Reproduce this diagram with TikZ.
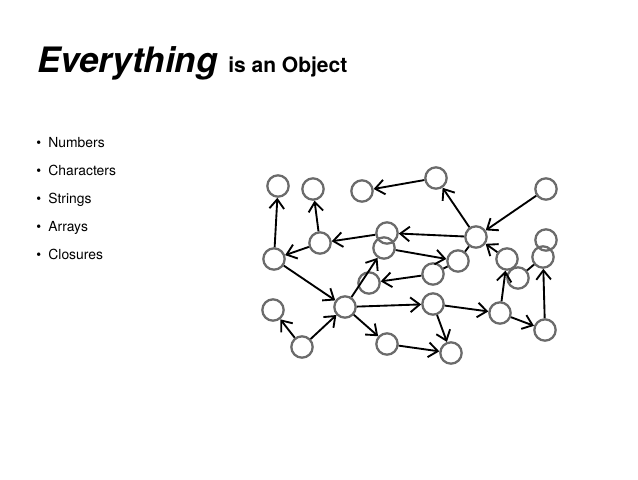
\documentclass[tikz,border=0pt]{standalone}
\usepackage{fontspec}
\setmainfont{TeX Gyre Heros}
\usetikzlibrary{arrows.meta, positioning}

\tikzset{
  obj/.style={circle, draw=black!58, line width=1.7pt, minimum size=16pt, inner sep=0pt},
  ref/.style={-{Straight Barb[length=7pt, width=11pt, line width=1.4pt]}, line width=1.4pt},
  link/.style={line width=1.4pt}
}

\begin{document}
\begin{tikzpicture}[x=0.75pt, y=-0.75pt]
  \useasboundingbox (0,0) rectangle (638,479);

  % Draw the title
  \node (title) [anchor=base west, inner sep=0pt] at (37,72) {\fontsize{26.25}{30}\selectfont\bfseries\itshape Everything};
  \node (subtitle) [anchor=base west, inner sep=0pt] at (228,72) {\fontsize{15.75}{18}\selectfont\bfseries is an Object};

  % Draw the bullet list
  \foreach \item [count=\i] in {Numbers, Characters, Strings, Arrays, Closures}
    \node (item\i) [anchor=base west, inner sep=0pt] at (36,147+28*\i-28) {\fontsize{10.4}{12}\selectfont\textbullet\hspace{5.5pt}\item};

  % Create the objects
  \node (topa) [obj] at (278,186) {};
  \node (topb) [obj] at (313,189) {};
  \node (topc) [obj] at (362,191) {};
  \node (topd) [obj] at (436,178) {};
  \node (tope) [obj] at (546,189) {};

  \node (mida) [obj] at (274,259) {};
  \node (midb) [obj] at (320,243) {};
  \node (midc) [obj] at (387,233) {};
  \node (midd) [obj] at (384,248) {};
  \node (hub) [obj] at (476,237) {};
  \node (mide) [obj] at (458,261) {};
  \node (midf) [obj] at (433,274) {};
  \node (midg) [obj] at (369,283) {};

  \node (righta) [obj] at (507,259) {};
  \node (rightb) [obj] at (518,278) {};
  \node (rightc) [obj] at (546,240) {};
  \node (rightd) [obj] at (543,257) {};

  \node (root) [obj] at (345,307) {};
  \node (lowa) [obj] at (273,310) {};
  \node (lowb) [obj] at (302,347) {};
  \node (lowc) [obj] at (387,344) {};
  \node (lowd) [obj] at (433,304) {};
  \node (lowe) [obj] at (451,353) {};
  \node (lowf) [obj] at (500,313) {};
  \node (lowg) [obj] at (545,330) {};

  % Draw the references
  \draw [ref] (mida) -- (topa);
  \draw [ref] (midb) -- (topb);
  \draw [ref] (topd) -- (topc);
  \draw [ref] (midb) -- (mida);
  \draw [ref] (midc) -- (midb);
  \draw [ref] (hub) -- (midc);
  \draw [ref] (hub) -- (topd);
  \draw [ref] (tope) -- (hub);
  \draw [ref] (righta) -- (hub);
  \draw [ref] (midd) -- (mide);
  \draw [link] (hub) -- (mide);
  \draw [link] (mide) -- (midf);
  \draw [ref] (midf) -- (midg);

  \draw [ref] (mida) -- (root);
  \draw [ref] (lowb) -- (root);
  \draw [ref] (lowb) -- (lowa);
  \draw [ref] (root) -- (midd);
  \draw [ref] (root) -- (lowc);
  \draw [ref] (root) -- (lowd);
  \draw [ref] (lowc) -- (lowe);
  \draw [ref] (lowd) -- (lowe);
  \draw [ref] (lowd) -- (lowf);
  \draw [ref] (lowf) -- (lowg);
  \draw [ref] (lowf) -- (righta);
  \draw [ref] (lowg) -- (rightd);
  \draw [link] (rightb) -- (rightd);
\end{tikzpicture}
\end{document}
